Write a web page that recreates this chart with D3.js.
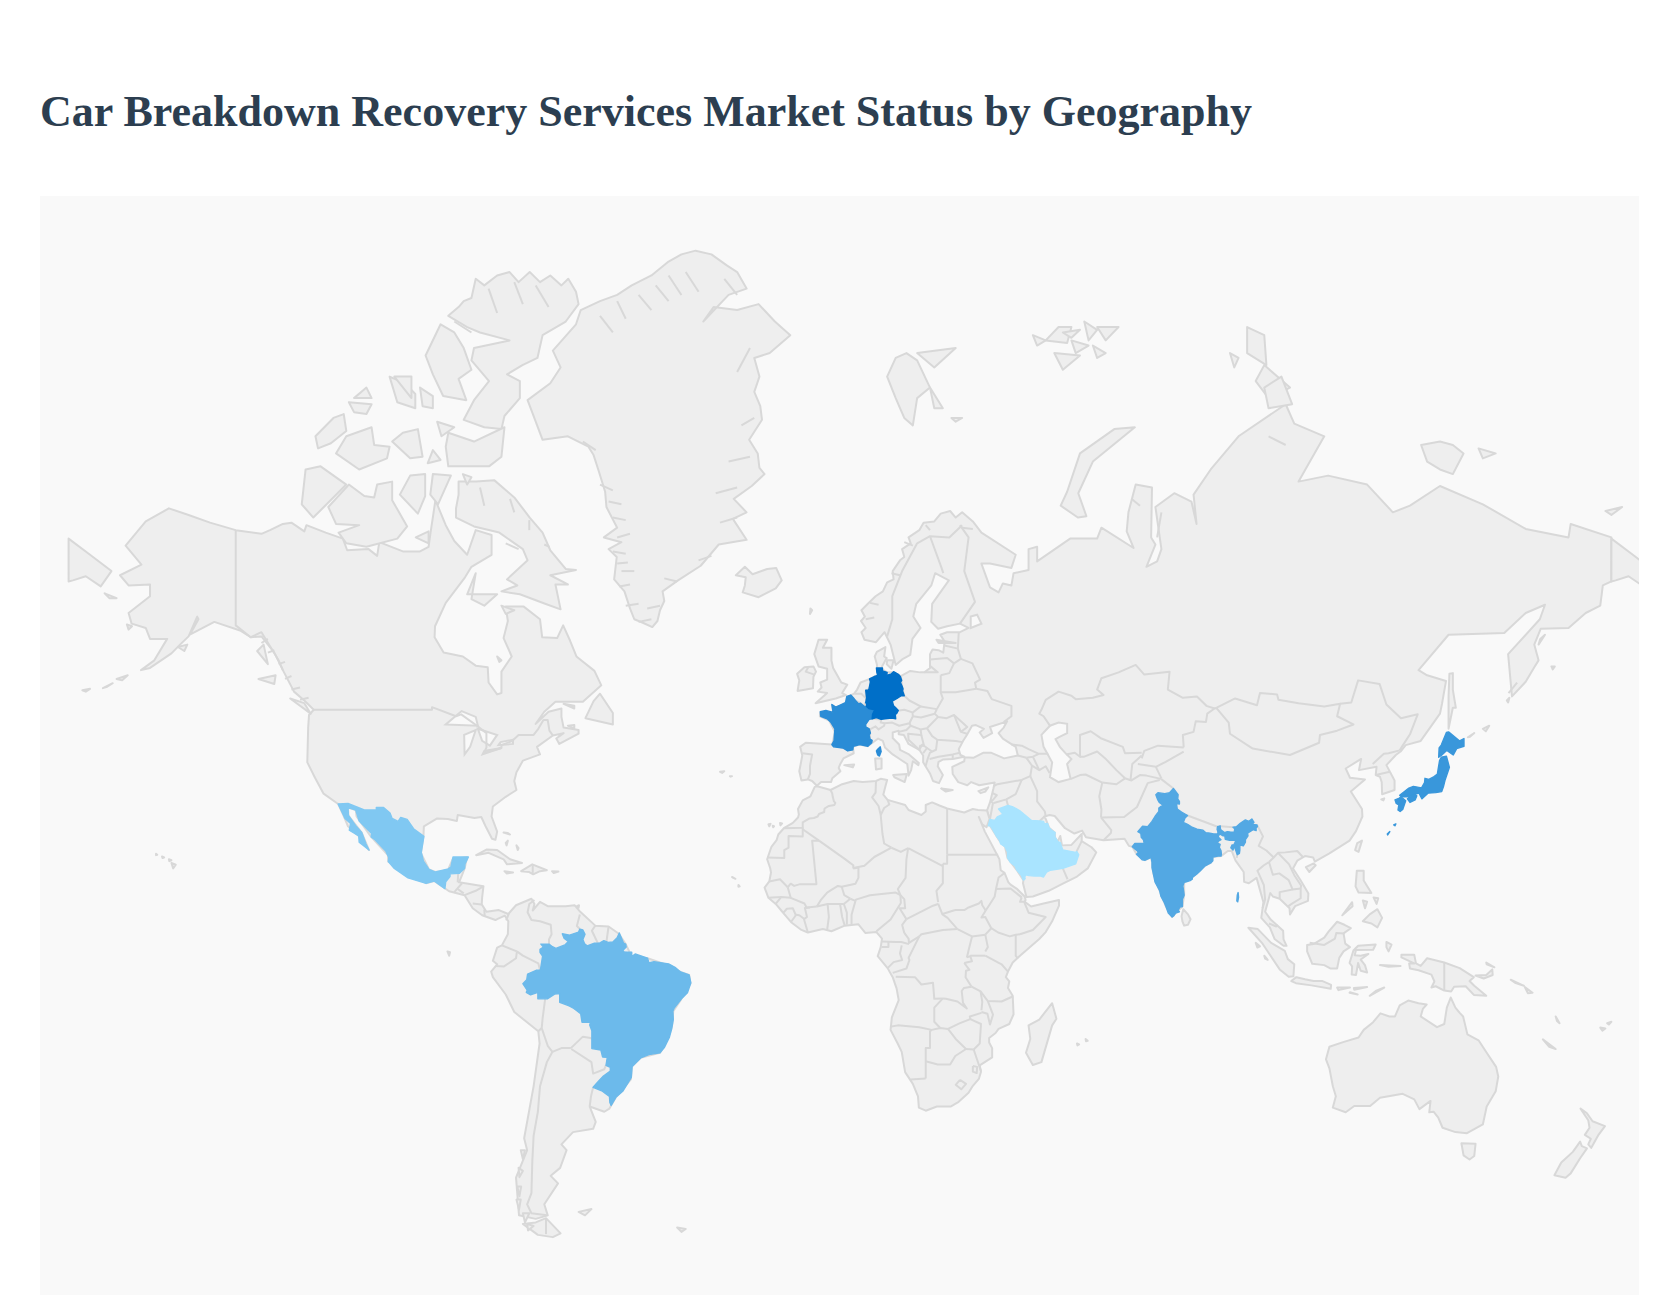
<!DOCTYPE html>
<html>
<head>
<meta charset="utf-8">
<title>Car Breakdown Recovery Services Market Status by Geography</title>
<script src="https://cdn.jsdelivr.net/npm/d3@7"></script>
<style>
  html, body { margin: 0; background: #fff; }
  svg { display: block; }
</style>
</head>
<body>
<svg id="chart" width="1680" height="1304"></svg>
<script>
// chart values
const titleText = "Car Breakdown Recovery Services Market Status by Geography"
const marketNames = ["Saudi Arabia", "Mexico", "Brazil", "India", "Japan", "France", "Germany"]
const marketValues = [0, 24, 36, 51, 66, 75, 100]

// outlines below are flat lists: lon, lat, lon, lat ...
const germany = [[9.9,55,9.9,54.6,11,54.4,10.9,54,12,54.2,12.5,54.5,13.7,54.1,14.1,53.8,14.4,53.3,14.1,53,14.4,52.6,14.7,52.1,14.6,51.8,15,51.1,14.3,51.1,13.3,50.7,12.2,50.3,12.5,49.6,13,49.3,13.6,48.9,13.2,48.4,12.9,48.3,13,47.6,12.1,47.7,10.5,47.6,9.6,47.5,8.5,47.8,7.5,47.6,7.6,48.3,8.1,49,6.7,49.2,6.2,49.5,6.2,49.9,6,50.1,6.2,50.8,6,51.9,6.6,51.9,6.8,52.2,7.1,53.1,6.9,53.5,7.9,53.8,8.8,54,8.6,54.4,8.5,55]]
const france = [[3.6,50.4,4.3,49.9,4.8,50,5.7,49.5,6.2,49.5,6.7,49.2,8.1,49,7.6,48.3,7.5,47.6,6.8,47.5,6,46.7,6,46.3,6.8,46,7.1,45.3,6.8,45,7,44.3,7.5,44.1,7.4,43.7,6.5,43.1,4.6,43.4,3.1,43.1,3,42.5,1.8,42.3,0.7,42.8,-1.5,43,-1.9,43.4,-1.4,44,-1.2,46,-2.2,47.1,-3,47.6,-4.5,48,-4.6,48.7,-3.3,48.9,-1.6,48.6,-1.9,49.8,-1,49.4,1.3,50.1,1.6,51,2.5,51.2,3.1,50.8],
  [8.8,42.6,9.4,43,9.6,42.2,9.2,41.4,8.8,41.6,8.5,42.3]]
const japan = [[142.2,39.4,141.5,41.4,140.3,41.2,139.9,40.6,139.6,39.2,139.4,38.2,138.4,37.6,137.4,37.2,136.5,37.4,136.4,36.6,135.7,35.6,133.8,35.9,132.6,35.5,130.6,34.2,131,33.9,132.2,33.9,135.1,34.6,135.8,33.5,137.2,34.6,139,34.7,140.4,34.9,140.8,35.8,141.2,37.1],
  [144.6,44,145.6,44.4,145.6,43.1,143.9,42.7,143.1,41.6,141.6,42.4,141,42,140.3,41.5,139.7,41.2,139.8,42.8,140.3,43.3,141.5,45.4,142,45.5],
  [134.2,34.3,134.6,34.1,134.2,33.3,133,32.8,132.4,33.5,133,34],
  [130.9,33.9,132,33.1,131.3,31.4,130.7,31,130.2,31.3,130.4,32.3,129.8,32.6,129.5,33.3,130.4,33.6],
  [129.7,28.5,129.2,28.3,129.5,28.1],[128.3,26.9,127.8,26.2,127.7,26.4]]
const india = [[77.8,35.5,78.9,34.3,78.8,33.5,79.2,33,79.2,32.5,78.5,32.6,78.7,31.5,79.7,30.9,81.1,30.2,80.5,29.7,80.1,28.8,81.1,28.4,82,27.9,83.3,27.4,84.7,27.2,85.3,26.7,86,26.6,87.2,26.4,88.1,26.4,88.2,26.8,88,27.4,88.1,27.9,88.7,28.1,88.8,27.3,89.7,26.7,90.4,26.9,91.2,26.8,92,26.8,92.1,27.5,91.7,27.8,92.5,27.9,93.4,28.6,94.6,29.3,95.4,29,96.1,29.5,96.6,28.8,96.2,28.4,97.3,28.3,97.4,27.9,97.1,27.7,97.1,27.1,96.4,27.3,95.1,26.6,95.2,26,94.6,25.2,94.6,24.7,94.1,23.9,93.3,24.1,93.3,23,93.2,22.3,92.7,22,92.1,23.6,91.9,23.6,91.7,23,91.2,23.5,91.5,24.1,91.9,24.1,92.4,25,91.8,25.1,90.9,25.1,89.9,25.3,89.8,26,89.4,26,88.6,26.4,88.2,25.8,88.9,25.2,88.3,24.9,88.1,24.5,88.7,24.2,88.5,23.6,88.9,22.9,89,22.1,88.9,21.7,88.2,21.7,87,21.5,87,20.7,86.5,20.2,85.1,19.5,83.9,18.3,83.2,17.7,82.2,17,82.2,16.6,81.7,16.3,80.8,16,80.3,15.9,80,15.1,80.2,13.8,80.3,13,79.9,12.1,79.9,10.4,79.3,10.3,78.9,9.5,79.2,9.2,78.3,8.9,77.9,8.3,77.5,8,76.6,8.9,76.1,10.3,75.7,11.3,74.9,12.7,74.6,14,73.5,16,73.1,17.9,72.8,19.2,72.8,20.4,72.6,21.4,71.2,20.8,70.5,20.9,69.2,22.1,69.6,22.5,69.4,22.8,68.2,23.7,68.8,24.4,71,24.4,70.8,25.2,70.3,25.7,70.2,26.5,69.5,26.9,70.6,28,71.8,27.9,72.8,29,73.5,30,74.4,31,74.4,31.7,75.3,32.3,74.5,32.8,74.1,33.4,73.7,34.3,74.2,34.7,75.8,34.5,76.9,34.7],
  [92.9,13.6,93,12.5,92.8,11.5,92.6,11.7,92.7,13]]
const brazil = [[-57.6,-30.2,-56.3,-28.9,-55.2,-27.9,-53.6,-26.9,-53.6,-26.1,-54.6,-25.7,-54.3,-24,-55.4,-23.9,-55.8,-22.4,-57.9,-22.1,-57.9,-18.2,-58.4,-16.9,-58.2,-16.3,-60.2,-16.3,-60.5,-14.4,-62.1,-13.2,-63.2,-12.6,-65.4,-11.8,-65.4,-9.8,-66.6,-9.9,-68.3,-11,-70.5,-11,-70.5,-9.5,-72.2,-10.1,-73.2,-9.5,-73,-9,-74,-7.5,-73.1,-6.6,-72.9,-5.3,-70.9,-4.4,-69.9,-4.3,-69.4,-1.1,-70,-0.2,-70,0.5,-69.2,1,-69.8,1.7,-67.9,1.7,-67.1,1.1,-66.3,0.7,-64.2,1.5,-63.4,2.3,-64.4,3.1,-64.8,4.1,-63.1,3.8,-61,4.5,-60.7,5.2,-60,5,-59.5,4,-60,2.8,-59.6,1.8,-59,1.3,-57.3,1.9,-56,2,-55.1,2.5,-54.1,2.1,-53,2.2,-52,3.2,-51.5,4.3,-50.5,1.9,-50,1.7,-49.9,1,-50.7,0.2,-50.4,-0.1,-48.6,-0.2,-48.6,-1.2,-47.8,-0.6,-44.9,-1.6,-44.6,-2.7,-43.4,-2.4,-40,-2.9,-38.5,-3.7,-37.2,-4.8,-35.2,-5.5,-34.8,-7.3,-35.6,-9.6,-37,-11,-38.7,-13.1,-39,-13.8,-38.9,-15.7,-39.3,-17.9,-39.8,-19.6,-41,-21.9,-42,-23,-44.6,-23.4,-46.5,-24.1,-48.5,-25.9,-48.7,-28.2,-50.7,-31,-52.3,-32.2,-53.4,-33.8,-53.7,-33.2,-53.8,-32,-55.6,-30.9]]
const mexico = [[-117.1,32.5,-114.8,32.6,-111,31.3,-108.2,31.3,-108.2,31.8,-106.5,31.8,-105,30.7,-104.5,29.6,-103.1,29,-102.5,29.8,-101,29.4,-99.5,27.5,-97.1,25.9,-97.7,22.5,-97.2,20.6,-95.9,18.8,-94.4,18.2,-91.4,18.9,-90.8,19.3,-90.3,21.5,-86.7,21.5,-87.5,20,-87.6,19,-88.2,18.5,-88.8,17.9,-91,17.8,-91,17.2,-92,16,-92.2,14.5,-94.7,16.2,-96.6,15.7,-100.8,16.9,-104,19,-105.4,20.5,-105.3,21.4,-106,22.8,-108.5,25.2,-109.4,25.8,-109.3,26.5,-112.2,29.1,-113,31.3,-114.8,31.8,-114.7,30.2,-112.9,28,-111.6,26.7,-110.6,24.3,-109.9,23,-112.2,24.7,-112.3,26,-114.5,27.2,-114.2,28.6,-115.5,29.6]]
const saudi = [[42.8,16.4,42.3,17.5,41.2,18.7,40.9,19.5,39.8,20.3,39.1,21.3,39.1,22.6,38.5,23.7,37.5,24.3,37.2,25.1,36.6,25.8,35.6,27.4,35.1,28.1,34.6,28.1,35,29.4,36.1,29.2,36.7,29.9,37.7,30.3,38,30.5,37,31.5,39.2,32.2,40.4,31.9,41.9,31.2,44.7,29.2,46.6,29.1,47.5,29,47.7,28.5,48.4,28.6,48.8,27.7,49.5,27.1,50.2,26.7,50.1,25.9,50.5,25.3,50.8,24.8,51.4,24.6,51.6,24,52,23,55,22.5,55.2,22.7,55.7,22,55,20,52,19,49.1,18.6,48.2,18.2,47.5,17.1,46.8,17.3,45.4,17.3,44.1,17.4,43.4,17.6,43.1,17.1,43.2,16.7]]
const marketShapes = [saudi, mexico, brazil, india, japan, france, germany]

const americas = [-156.6,71.3,-152,70.8,-147,70.2,-141,69.6,-135,69.3,-133,69.6,-130,70.1,-128,70.2,-125,69.5,-124.5,70,-120,69.4,-116,68.9,-115,67.9,-110,68,-108,67.4,-107.5,68.6,-102,67.8,-98,67.8,-96,68.2,-95.5,69.5,-94.4,71.9,-92,70,-90,68.7,-87,67.5,-85,69.6,-81.3,69.2,-81.3,67.5,-86,66.4,-87.5,65.4,-92,62.8,-94.5,60.2,-94.6,58.9,-92.5,57,-88,56.5,-85,55.3,-82.2,55.1,-82,53,-80,51.3,-79,51.5,-79,54.5,-76.6,56.5,-78.5,58.8,-77.5,60.8,-78,62.4,-73.8,62.4,-70,61,-69.5,58.9,-66,58.8,-64.6,60.3,-63,58.5,-61.5,56.5,-57.3,54.6,-55.7,52.6,-60,50.2,-66.4,50.2,-69,48.7,-71,46.8,-68,48.7,-65,49.2,-65,47.9,-64.5,46.2,-61,45.8,-61,45.2,-65.5,43.5,-66.2,44.4,-64.5,45.3,-67,44.9,-70.7,43,-70,41.7,-74,40.6,-75.5,38.5,-76,36.9,-75.5,35.2,-78,33.9,-81,32,-81.3,30,-80,26.9,-80.4,25.2,-81.2,25.4,-82.7,28,-83.7,29.9,-85.3,29.7,-89.2,30.3,-89.4,29.1,-91.5,29.5,-94,29.6,-97.1,28,-97.2,25.9,-97.8,22.4,-95.9,18.8,-94.4,18.2,-91.5,18.6,-90.4,21,-87,21.5,-87.6,19,-88.2,17.5,-88.9,15.9,-83.2,15,-83.5,12.5,-83.6,10.9,-82.5,9.2,-79.6,9.6,-77.4,8.7,-75.6,10.7,-72,12.2,-71.3,11,-71.7,9.5,-70,11.5,-68.2,10.5,-64,10.5,-61.9,10.7,-60.8,9.4,-57.1,6,-54,5.8,-51.6,4.1,-50,1.7,-48.6,-1.2,-44.9,-1.6,-41,-2.9,-37.2,-4.8,-35.2,-5.5,-34.9,-7.5,-37,-11,-38.9,-13.8,-39.2,-17.2,-40.8,-21,-42,-23,-46.5,-24.1,-48.6,-25.9,-48.8,-28.6,-52.3,-32.2,-53.8,-34.4,-55,-35,-58.4,-34,-57,-36.9,-57.6,-38.2,-62.3,-38.8,-65,-41,-63.8,-42,-65.3,-45,-67.5,-46.3,-65.8,-47.5,-69,-50.7,-68.2,-52.3,-71,-52.8,-74.9,-52.3,-75.6,-46.6,-73,-42,-73.7,-39.9,-71.5,-30,-70.1,-21,-70.4,-18.3,-76,-14,-78,-10,-81,-6,-81.4,-4.7,-80,-3,-81,-2.2,-80,0.9,-78.9,1.4,-77.5,4,-77.4,7,-78.2,8.3,-80,7.5,-80.4,7.3,-83.5,8.4,-85.7,10,-87.6,13,-91.2,13.9,-94.7,16.2,-96.6,15.7,-105.4,20.5,-105.5,21.9,-109.4,25.8,-112.8,30,-113,31.3,-114.8,31.8,-114.7,30.2,-111.6,26.7,-109.9,23,-112.3,26,-114.8,28,-116,30.5,-117.1,32.5,-120.5,34.5,-122.5,37.5,-124.3,40.3,-124.1,46.2,-123.9,48.2,-122.8,49,-125,50.4,-127.4,51.7,-130,54.7,-132,57,-135,59,-137.5,58.9,-140,59.7,-146,60.7,-151.7,59.2,-149.7,61,-150,61.3,-152,59,-154,58,-156,56.9,-161,55,-163.1,54.7,-160,56,-157,58.7,-161,58.7,-162,60,-165.3,60.5,-166,61.7,-161,63.5,-161,64.7,-166,64.6,-168,65.6,-163,66.6,-166.7,68.3,-162,70.3]
const greenland = [-60.5,81.6,-56,81.9,-52,82.1,-48.6,82.4,-44,82.7,-40,83.1,-37,83.3,-33.7,83.4,-30,83.3,-26.5,83,-24,82.8,-21.8,82.3,-26,82.1,-31.9,81.2,-29.5,81.7,-24,81.6,-19,81.8,-15.2,81.2,-11.6,80.7,-16.4,80,-20,79.8,-18.8,79,-20,78.3,-18.6,77.6,-18.2,76.9,-21.2,75.8,-19.2,75,-18.8,74.1,-17.6,73.7,-20.6,72.9,-24.8,72,-21.8,71,-25,70.5,-21.8,68.8,-28.3,68.4,-32.5,66.5,-37.8,65.1,-41.4,64,-41,63,-42,62,-42.6,60.8,-43.8,60.1,-46,60.6,-48,61,-49,62.2,-50.3,64,-52.7,65.2,-52.1,67.3,-54,68,-51,68.6,-55.1,69,-52,69.8,-54.5,71.4,-54.8,72.5,-56.3,73.9,-57.5,74.9,-58.7,75.4,-63.5,76,-69.4,75.8,-71,76.8,-72.9,77.9,-67.6,78.7,-65.2,79.4,-67,80.1,-61.6,81.1]
const canadaIslands = [
  [-91.4,81.4,-89,81.7,-87.8,81.9,-86,82,-85,82.6,-83,82.4,-80,82.7,-77.1,82.8,-75,82.5,-72.4,82.8,-70,82.5,-67.6,82.7,-65,82.4,-63.4,82.6,-61.6,82.2,-61,81.8,-64,81.2,-69.4,80.7,-70.6,79.8,-74.1,79.5,-77.7,79.1,-74.7,78.8,-74.7,78,-78.3,77.1,-79,76.4,-83,76.5,-87.8,76.9,-85.4,77.9,-81.9,78.8,-86,79.7,-85.4,80.2,-77.1,80.5,-84,80.8,-87,81],
  [-96.7,79.9,-93.2,81.1,-90,80.8,-87.8,80.2,-86,79.3,-89,78.9,-87.2,77.9,-92.6,78.1,-95,79.1],
  [-105.1,79,-101.5,78.7,-99.1,78.2,-99.1,77.5,-103.3,77.8],[-98,78.5,-95,78.1,-95,77.5,-97.4,77.6],[-110.5,78.5,-109.3,78,-113.4,78],[-114.6,77.8,-109.3,77.7,-110.5,77.2,-113.4,77.3],
  [-115.8,77.2,-118.2,77,-122.4,76,-121.8,75.3,-118.8,75.6,-115.2,76.3],[-109.3,76.5,-108.7,75.5,-105.1,75.4,-105.7,74.7,-112.2,74,-117.6,75,-115.2,76],
  [-98.5,76.4,-97.4,74.8,-100.3,74.7,-104.5,75.7,-102,76.2],[-95,75.2,-93.2,74.6,-96.2,74.4],[-91.4,76.2,-85.4,75.7,-78.3,76.5,-79,74.8,-81.9,74.2,-91.4,74.2,-92,75.4],
  [-100.3,73.6,-96.8,73.7,-96.8,72.2,-98.5,70.9,-102.7,72.3],[-95,73.7,-90.8,73.6,-93.8,71.6,-95.6,72.3],
  [-89,73.2,-84.9,73.2,-80.7,73.3,-76,72.1,-72.4,70.6,-69.4,69.4,-67.6,67.9,-64,66.2,-61.6,66.1,-67.6,65.6,-63.5,64.7,-66.4,64.7,-65.2,62.1,-68.8,62.7,-74.7,63.7,-79,64,-75.3,64.6,-77.7,65.2,-72.9,67,-74,68,-79.5,69.4,-85.4,69.9,-89.6,70.6,-89.6,71.3,-89,72.3],
  [-114.6,73,-111,72.2,-108.7,72.1,-108,73,-104.5,73.2,-104.5,71.9,-101,69.9,-103.3,68.9,-110.5,68.2,-115.2,68.5,-117,69.4,-112.2,70,-117.6,70.1,-119.4,71.4],
  [-124.7,74,-121.2,74.2,-115.2,73,-122.9,70.6,-125.6,71.6],
  [-87,63.7,-80,63.7,-83,62.5,-86,63.2,-85,65.8],[-99,69,-96,69.5,-96,68.5],[-59.4,47.7,-53,46.7,-53,48.5,-56,51.4,-57.5,50.3],[-128.3,50.7,-123.5,48.4,-125,50],[-64.5,49.9,-62,49.2,-62,49.6],[-63.5,46.5,-62,46,-62,46.6],
  [-80,56.5,-79,56,-79.5,55.8],[-79,62.5,-76,62,-78,61.6],[-104,79,-100,79,-100,78],[-94,76.8,-90,76.5,-93,76],[-88,73.7,-86,73.5,-87,73]
]
const eurasia = [-9,37,-9.5,38.7,-8.8,41.5,-9.3,43,-8,43.7,-1.8,43.4,-1.2,45.5,-2.5,47.3,-4.7,48,-4.6,48.6,-1.6,48.7,-1.9,49.7,-1,49.4,0.2,49.6,1.5,50.2,1.6,50.9,3.3,51.4,4,52,4.8,53,7,53.5,8.2,53.9,8.8,54,8.6,55.5,8.1,56.5,8.6,57.1,10.6,57.7,10.3,56.5,10.9,56.3,9.8,55.2,9.9,54.8,11,54.4,12.5,54.4,14.2,53.9,16.4,54.6,18.7,54.4,19.7,54.4,21,55,21,56.8,21.6,57.4,23,57.3,24.1,57,24.4,58.4,23.4,59.2,25,59.5,28,59.5,30,60,28,60.5,25,60.2,22.9,59.9,21.3,60.7,21.5,62.7,25.4,65.1,22.2,65.8,21.3,64.6,17.8,62.7,17.1,61.3,18.8,60,16.9,58.7,16.4,56.7,14.7,56.2,13,55.4,11.8,58,10.4,59.5,8.4,58.3,5.7,58.6,5,59.5,6,60,4.9,60.8,5.8,61.3,5,62,6.5,62.7,8.3,63.5,10,64,11,64.9,12.5,65.2,12.3,66,14,67,15,67.3,14.5,68,16.5,68.5,16,69,18.5,69.6,19.5,70.2,22,70.3,23.5,70.9,25.7,71.1,27,70.6,28.5,71,31,70.3,33,69.4,41,67.5,40,66.3,35,66.7,33,66.7,35,64.4,37,63.9,38,64.8,40,64.6,40.5,65.8,44,66.1,44,68,46,68.2,46,66.9,53.7,68.9,60,68.9,61,69.8,68.5,68.1,66.9,69.5,67.3,71,69,73,72.8,72.8,72.6,69,73.6,68.4,71.5,66.4,74,66.9,75,68,73.6,71.4,78,72.4,82,71.8,83.2,70.1,82.5,72.3,86.5,74,93,76,104,77.7,106,76.7,113,76,107,73.2,113.9,73.6,123,73,129,71,133,71.5,140,72.9,150,71.6,160,69.7,170,69,170.5,70.1,180,69,180,65,178,64.6,177.4,62.5,174,61.7,170,60,163.5,59.9,162,58,163,56,161.9,55,160,53.1,156.8,51,155.9,56.8,163.3,61,164.5,62.6,160,61.7,155,59.4,142,59.2,135,54.7,137,54,141.4,53.2,140.5,50,140,48.4,135.5,44,132,43.3,130.8,42.2,129.7,41.6,127.5,39.8,129.4,37,129.4,35.2,126.5,34.4,126.4,36.7,126,37.7,125,38,125.2,39.5,121.1,38.9,121.6,40.9,118,39.2,119,37.5,122.5,37.2,119.2,34.9,121.8,31.5,121.9,30,120.4,27,118.9,25,114.2,22.3,110.8,20.5,110.4,21.4,108.5,21.7,106.7,20.7,105.7,19,107.4,16.5,109.3,13.4,109.2,11.7,106.2,10.5,105,8.6,104.9,10,102.6,12.2,101,12.7,100.4,13.5,100,12,99.2,9.2,100.5,7.4,103.4,4.8,103.5,2.8,104.2,1.3,103.5,1.3,101.4,2.9,100.3,5.6,98.3,7.8,98.8,11.4,97.2,16.9,95.4,15.7,94.3,16,94.2,18.2,92.3,20.7,91.4,22.8,90.5,22.8,88.9,21.7,87,21.5,86.5,20.2,85,19.5,82.2,17,80.3,15.9,80.3,13,79.9,10.4,78.3,8.9,77.5,8,76.1,10.3,74.6,14,73.1,17.9,72.8,20.4,72.6,21.4,71.2,20.8,69.2,22.1,68.2,23.7,67.4,23.9,66.4,25.4,61.5,25.1,57.4,25.7,56.5,27.1,54.7,26.5,52.5,27.6,50.1,30.1,48.9,30.3,47.7,30,48,29.5,48.8,27.7,50.1,26.7,50.2,25.6,50.8,24.8,51.4,26,51.6,25,51.8,24,54,24.1,56.4,26.4,56.4,24.9,58.7,23.6,59.8,22.5,57.8,19,55.3,17.2,52,15.6,48.7,14,45,12.7,43.5,12.6,42.7,15.7,42.8,16.4,41.2,18.7,39.1,21.3,38.5,23.7,37.2,25,35,28.1,34.9,29.5,34.3,31.2,35,32.8,35.8,35.5,36.1,36.6,32.5,36.1,30.6,36.7,29.7,36.1,27.6,36.7,26.3,38.2,26.2,39.5,29,40.5,29.1,41.2,31.1,41.1,33.5,42,35.2,42,38.3,41,41.5,41.5,41,43,38,44.4,37,45.3,38.2,46.2,39,47.2,35,46.3,35.5,45.3,33.5,44.5,32.6,45.4,33.6,46,31.7,46.6,30.8,46.5,29.6,45,28.7,44,28,43,27.7,42.6,28.1,41.6,29,41.3,26.3,40.9,24,40.8,23,40.4,22.8,39.6,24,38,23.1,36.5,21.7,36.9,21,38.3,19.4,40.3,19.4,41.5,18.5,42.5,16,43.5,14.9,45,13.7,45.1,13.7,45.7,12.3,45.4,12.3,44.5,13.8,43.4,14,42.5,16.1,41.7,18.4,40.2,18.3,39.8,17,40.5,16.6,38.9,16,37.9,15.7,40,14.1,40.8,12.3,41.7,10.5,42.9,10,44,8.9,44.4,6.5,43.1,4.5,43.4,3,43,3.2,41.9,0.8,41,0,39.9,-0.3,39.3,0.1,38.7,-1.8,37.4,-2.1,36.7,-4.4,36.7,-5.4,36,-6.5,36.9,-7.5,37.2]
// far east tip of Russia, it shows up on both ends of the map
const chukotkaEast = [-180,68.9,-175,67.5,-170,66,-172.5,64.5,-176,65.5,-179,65.1,-180,65]
const eurasiaIslands = [
  [142,46,143,49.3,143.7,49.3,143,52,143,54.3,142.2,54.2,142,51,142,48],
  [51.5,71.5,55.5,70.6,57.5,70.7,55.6,72.4,59,74.5,68.8,76.5,64,76.4,56,75,53,72.5],
  [11,79,13,78,14,77.5,15,77,17,76.6,18,78,21,78.5,18,79.7,15.5,80,13,79.8],[18,80,27,80.2,22,79.4],[21,78.5,24,77.5,22,77.5],[26,77,28.5,77,27,76.8],
  [95,81,99,80.7,99.5,79.5,95,80],[99,79.5,105,78.5,100,78,97,78.8],[100,77.5,105.5,77.7,103,79,99,78.5],[91,80,93,79.8,92,79.4],
  [135.6,75.5,140,75.7,143,75.5,145.5,75,143,73.7,140,74,137,74.5],[149,75.3,153,75,150,74.7],[178.6,71.1,182.5,71.4,180,70.8],
  [48,80.5,51,81,54,81,53,80.4],[50,80,56,79.9,52,79.3],[57,81.2,60,80.9,58,80.5],[60,81,65,81,62,80.5],[45,80.7,48,80.5,46,80.3],[54,80.5,58,80.3,55,80],[52,80.8,56,80.9,54,80.6],[59,80.3,62,80,60,79.8],
  [-5.7,50,-1,50.7,1.4,51.2,0.5,51.5,1.7,52.7,0.3,53,-1.6,55,-2,56,-2,57.6,-4,57.6,-3,58.6,-5,58.6,-6,56.8,-5,55.2,-3,54.9,-3,53.4,-4.6,53,-4.3,52.3,-5.2,51.7,-3,51.5],
  [-6.2,53.8,-6.3,52.2,-9.9,51.8,-9.5,53.3,-10,54.2,-8.3,55.1,-6.2,55.2,-5.6,54.5],
  [-22.7,63.9,-19,63.4,-15,64.3,-13.6,65.1,-14.9,66.3,-17,66.2,-20.4,65.7,-22.2,66.4,-24.3,65.6,-22,65.4,-22.2,64.6],
  [12.4,38,15.6,38.2,15.1,36.7,12.7,37.6],[8.2,41,9.7,41,9.7,39.2,8.4,39],[23.6,35.5,26.3,35.2,24.7,34.9],[32.3,35,34.6,35.7,33.9,34.9,32.8,34.6],
  [1,39.8,3.3,39.9,3,39.4],[22.5,58.6,23,58.2,27,58.2],[11,56,12.5,56,12,54.9,10.9,55.5],
  [80.1,9.8,81.2,8.6,81.8,7.5,81.2,6.2,80.3,6,79.9,7,79.7,8.2],[121.8,25,121,22.6,120.2,23,120.7,24.5],[108.7,19.3,110.5,20.1,111,19.7,109.5,18.2],
  [120.6,18.5,122.2,18.5,122.2,16.3,124,13.5,121,13.6,120.3,15],[122,7,123.6,8.6,125.4,9.8,126.5,7.8,125.4,5.6,124,6.5],[117.2,8.4,119.5,11.4,119.6,10.5],[122,11.8,123,11.5,122.5,10],[124.5,12.5,125.6,12.3,125.2,11],
  [109,1.5,110.5,1.7,113,3.2,114,4.6,116,6.9,117.7,6.2,119.2,5.4,117.5,4.2,117.9,1.8,119,1,117.5,0,116.5,-1.5,116,-4,114.5,-4,113,-3.2,110.2,-2.9,109,0],
  [95.3,5.5,97.5,5.2,100.6,2,103.8,0.1,104.5,-1.8,106,-3,105.8,-5.8,104.7,-5.9,102.6,-4.2,100.2,-0.6,98.6,1.8],
  [105.3,-6.9,106.5,-6,108.5,-6.5,110.5,-6.9,112.6,-6.9,114.6,-7.8,114.5,-8.7,110,-7.9,106.4,-7.4],
  [119.4,-5.4,119.5,-3.5,118.9,-2.7,119.8,0.2,120.9,1.3,125,1.6,124.4,0.4,120.4,0.3,120.1,-0.9,121.5,-1,123.3,-0.6,121.5,-1.9,122.5,-3.2,123,-4.9,121.5,-4.5,120.9,-2.7,120.4,-5.5],
  [127.5,2.2,128.7,1.6,128,0,127.5,1],[116,-8.4,119,-8.4,116.3,-9],[119,-9.5,120.8,-10,118.9,-9.6],[119.9,-8.5,123,-8.3,120,-8.9],[123.6,-10.3,127,-8.4,125,-9.2],[126,-3.2,130.8,-3.4,128,-3.6],[97,2,98,1.2,97.4,0.9],[99,-1,99.8,-2,99.2,-1.7]
]
const oceania = [
  [142.5,-10.7,143.6,-13,144.6,-14.2,145.4,-15,146.4,-19,149,-20.3,150.9,-23,153.1,-26,153.6,-28,153,-31,150.9,-34,150,-37.4,146.3,-39,143.6,-38.8,140.6,-38,139.6,-36.1,138.5,-35,137.5,-35.1,137.8,-32.9,135.2,-34.5,134,-32.6,131.3,-31.5,126,-32.3,123.7,-33.9,120,-33.9,118,-35.1,115,-34.2,115.7,-32,115,-30,114.2,-26.3,113.4,-24.4,114.2,-21.7,117.4,-20.7,121,-19.7,122.2,-18,124.4,-16.3,126.1,-14.3,128.2,-15,129.5,-15,130.6,-12.5,132.6,-11.4,135,-12,136.9,-12.3,136,-13.3,135.5,-15,139.3,-17.4,141,-16.7,141.6,-13],
  [145,-40.8,148.3,-40.9,148,-43,146.9,-43.6,145.5,-42.9],
  [131,-0.8,134,-0.8,134.4,-2.8,135.5,-3.4,137,-1.6,141,-2.6,144.6,-3.9,147.9,-6,146.9,-6.9,148,-8,150.8,-10.3,147.9,-10.1,146,-8.1,143.3,-8.2,142.6,-9.3,141,-9.1,139,-8.1,138,-8.4,138.7,-7,138,-5.4,135,-4.4,133,-4,132.8,-2.8,134,-2.8,131,-1.4],
  [148.3,-5.6,150.8,-5.5,152.2,-4.2,152.3,-5.5,150.2,-6.3],[150.8,-2.6,152.7,-3.7,150.9,-3],
  [172.8,-34.4,174.3,-35.3,175.6,-36.8,178.5,-37.7,176.9,-39.4,175.3,-41.6,174.6,-41,175.2,-40,173.8,-39.3,174.9,-38,174.6,-36.6],
  [172.7,-40.5,173.1,-41.3,174.3,-41.7,172.7,-43.4,170.5,-45.9,169.3,-46.6,166.7,-46.2,168.3,-44.1,171,-42.3],
  [164,-20.1,167,-22.2,165.5,-21.7],[156.5,-6.6,159.6,-8,157.5,-7.3],[159.8,-8.3,161.6,-9.6,160.5,-9.7],[167,-15,167.9,-16.5,167.3,-16],[177.4,-17.5,178.6,-17.7,177.9,-18.2],[179,-16.5,180,-16.2,179.4,-16.8]
]
const africa = [-5.9,35.8,-5.3,35.9,-2.2,35.2,0.5,36.3,3.2,36.9,5.3,36.7,8.4,36.9,9.5,37.3,11,37.1,10.6,35.9,10.1,34.3,11.1,33.3,15.2,32.3,16,31.3,19,30.3,20,31,20,32.3,21.5,32.8,23.2,32.2,25,31.6,29,30.8,31,31.5,32.2,31.3,34.3,31.2,34.9,29.5,34.2,27.8,33.2,28.4,32.4,29.9,33.8,26.9,35.5,24,37.2,21,37.5,18.6,38.4,18,39.3,15.9,39.8,15.4,41.2,14.5,43.1,12.7,43.3,11.9,43.1,11.5,44.6,10.4,47.5,11.1,51.1,11.9,51.1,10.6,49.5,7,48,4.5,46.5,2.9,42,-1,40.3,-2.6,39.2,-4.7,38.7,-6,39.5,-7,39.2,-8.5,40.3,-10.3,40.5,-14.5,39.5,-16.7,37,-17.8,36.3,-18.7,34.8,-19.8,34.8,-20.8,35.5,-22,35.5,-24,32.6,-25.7,32.9,-27,32.4,-28.5,31,-29.9,30,-31.3,27.5,-33.2,25.8,-34,22.6,-34,20,-34.8,18.4,-34.2,18.2,-32,17,-29.5,15.2,-27.1,14.4,-22.8,13.4,-20.9,11.8,-18,12.1,-15.2,13.7,-11.3,13.2,-8.6,12.3,-6,11.1,-3.9,8.8,-1.1,9.5,1,9.8,3,8.5,4.5,5.9,4.3,4.3,6.3,1.1,6,-2,4.7,-4,5.2,-7.5,4.4,-9,5,-11.4,6.8,-13.2,8.9,-13.7,9.5,-15,11,-16.7,12.4,-17.6,14.7,-16.5,16.1,-16.1,18.1,-16.3,19.1,-17,21,-16,23.7,-14.8,25.1,-14.4,26.3,-13.1,27.6,-11,28.7,-9.8,29.8,-9.6,30.4,-9.8,31.5,-8.7,33.2,-6.9,34]
const otherIslands = [
  [49.5,-12,50.5,-15.5,49.5,-17,47,-25,45,-25.6,43.4,-23,44.4,-20,44,-17,46.5,-15.7],[57.3,-20,57.8,-20.4,57.4,-20.5],[55.3,-21,55.8,-21.2,55.4,-21.4],
  [-84.9,21.9,-82.5,23.1,-80,23,-77,21,-74.2,20.2,-77.7,19.9,-78.5,21,-82,22.4],[-74.4,18.4,-71.8,19.9,-68.4,18.6,-70,18.4,-71.6,17.7,-72.5,18.2],[-78.3,18.4,-76.3,18.1,-77.8,17.9],[-67.2,18.4,-65.7,18.3,-66.8,18],
  [-78,24.5,-77.5,25,-77.8,24],[-77.5,26.6,-77,26.3,-78.5,26.7],[-75,23.4,-75.5,24,-75.2,23],[-61.4,10.5,-60.9,10.7,-61,10.1],
  [-159.6,22.2,-159.3,22,-159.6,21.9],[-158.2,21.6,-157.7,21.4,-158.1,21.3],[-156.6,21,-156,20.8,-156.5,20.6],[-156,20.2,-155,19.8,-155.6,19],
  [-91.6,0,-91,-0.2,-91.2,-1],[-61,-51.8,-58,-51.4,-59.5,-52.3],[-38,-54,-36,-54.2,-37,-54.6],
  [-68.6,-52.7,-65.2,-54.8,-67,-55.3,-70.5,-55,-74,-53.5,-71,-53.3],[-74.5,-42,-73.5,-42,-74,-43.5],[-75,-45,-74,-45.5,-74.8,-46.5],[-75.3,-48,-74.4,-48,-74.8,-49.5],[-75.5,-50,-74.5,-50,-74.9,-51.5],[-74,-52,-72.5,-52,-73.5,-53.3],[-73,-53.5,-71.5,-53.8,-72.8,-54.4],
  [-16.7,28.4,-16.2,28.5,-16.5,28],[-15.7,28.1,-15.4,28,-15.6,27.8],[-14,28.7,-13.5,28.6,-13.9,28.2],[-24.4,16.7,-24.9,16.9,-25.2,17.1],[-23.7,15.3,-23.4,15,-23.7,14.9],[-28,38.6,-27,38.7,-27.5,38.4],
  [-25.7,37.8,-25.2,37.8,-25.5,37.7],[-6.9,62.2,-6.5,62,-7,61.6],
  [-172,52.2,-169.7,52.9,-171,52.4],[-168.8,53.5,-166.2,54,-167.5,53.3],[-176.8,51.9,-175,52.1,-176,51.7],[-154.5,57.7,-152.3,58,-153,57.2],[-134.5,58,-133.5,55.5,-136,57.2],[-135.7,53.5,-131.7,54,-132,52.8],
  [155.6,50.4,156.2,50.8,155.9,50.1],[150,46,151.5,46.5,150.7,45.6],[146.5,44.6,148,45.3,147,44.7],[163,58,164.5,59.2,163.4,58.7],
  [166,55.2,166.8,55.2,166.3,54.8],[127,33.6,126.3,33.4,126.8,33.2],[-171.6,63.8,-168.8,63.3,-170.5,63.3],[-166.4,60.4,-165.2,60.2,-166,59.8]
]
const lakes = [
  [47,45,49,46.5,51,47,53,46.8,53,45.3,51,44.6,50.3,44.3,51.3,43,52.5,42,54,40.9,53,40,53.8,37.3,51,36.7,49,37.6,49.5,40.3,47.5,43],
  [-92,46.7,-84.5,46.5,-85,47.9,-88.3,48.8],[-87.6,41.7,-86.3,43,-85,45.8,-87.7,45],[-84.5,46,-80,45,-81.7,43.2,-83.5,44],[-83.4,41.7,-79,42.8,-83,42.3],[-79.7,43.3,-76.3,43.5,-76.3,44.2,-79.2,43.8],
  [30.5,60,33,60.5,32,61.5,30.5,61.3]
]
const americaBorders = [
  [-141,69.6,-141,60.3,-137.5,58.9,-135,59.5,-131,56,-130,54.7],
  [-122.8,49,-95.2,49,-95.2,49.4,-89.6,48,-88.4,48.3,-84.7,46.5,-82.5,45.3,-82.5,42.9,-83,42,-79,42.8,-79,43.3,-76.5,44,-75,45,-71.5,45,-70.4,46,-69.2,47.4,-68.2,47.4,-67.8,45.7,-67,44.9],
  [-88.2,15.7,-89.2,14.6,-90,13.7],[-89.1,17.9,-89.2,15.9],[-89.2,14.4,-87.8,13.4],[-87.6,13,-85,14,-83.2,15],[-85.7,11.1,-83.7,10.9],[-83,9.7,-82.9,8.1],[-77.3,8.7,-77.9,7.2],
  [-71.3,11.9,-72.5,11,-72.9,9.1,-72,7.3,-70,7,-67.5,6.2,-67.3,4,-67.9,2.8,-67.9,1.7],[-78.9,1.4,-75.4,0],[-75.4,0,-74,-1,-70.4,-2.8,-70,-4.3],[-75.4,-0.1,-75.6,-1.6,-78.4,-3.5,-80.3,-3.4],
  [-60.7,8.6,-61.4,5.9,-60.7,5.2],[-57.1,6,-57.9,4.8,-56.5,1.9],[-54,5.8,-54.5,2.3],[-68.8,-11,-69.4,-15.5,-69.6,-17.6],[-69.6,-17.6,-70.4,-18.3],[-69.6,-17.6,-68.2,-21.5,-67.1,-22.8],
  [-67.1,-22.8,-65,-22,-62.8,-22],[-62.8,-22,-60,-19.5,-58.2,-19.8,-57.9,-20],[-62.7,-22.2,-58,-25,-57.6,-27.4,-55,-26.5,-54.6,-25.6],
  [-67.1,-22.8,-68.4,-25,-70,-30,-70.5,-35,-71.5,-39.5,-71.8,-44,-72,-49,-73,-50.7,-72,-52,-68.4,-52.3],[-68.6,-52.7,-68.6,-54.9],[-58.4,-33.9,-58.1,-32,-57.6,-30.2],[-71.7,19.7,-71.7,18]
]
const africaBorders = [
  [-2.2,35.2,-1.8,34.5,-1.7,33.9,-1.4,33,-1.1,32.7,-1.3,32.3,-2.6,32.1,-3.6,31.6,-3.7,30.9,-4.9,30.5,-5.2,30,-6.1,29.7,-7.1,29.6,-8.7,28.8,-8.7,27.7,-13.1,27.6],
  [-8.7,27.7,-8.7,25.9,-12,26,-12,23.5,-13,23,-13,21.3,-17,21.4],[-8.7,27.4,-4.9,25],[-4.9,25,-6.5,25,-5.5,15.5,-9.3,15.5,-10.7,15.1,-11.5,15.6,-12.2,14.8],[-12.2,14.8,-14,16.6,-16.5,16.1],
  [-4.9,25,1.1,21.1,1.8,20.6,3.1,19.7,3.1,19],[3.1,19,4.3,19.2,4.3,16.9,3.6,15.6,0.4,14.9,-0.5,15.1,-2,14.2,-3,13.6,-4.4,12,-5.4,10.4],[-12.2,14.8,-11.5,12.4,-8.3,11.1,-7.8,10.2,-5.4,10.4],
  [3.1,19.1,5.7,19.6,8,21.5,12,23.5],[9.5,30.3,9.9,26.5,10.3,24.4,12,23.5],[8.4,36.9,8.3,34.7,7.5,33.8,9,32.1,9.5,30.3],[9.5,30.3,10.3,31.7,11.5,32.4,11.1,33.3],[25,31.6,25,22],[25,22,25,20,24,20],[24,19.5,15.9,23.4],[15.9,23.4,14.2,22.6,12,23.5],[25,22,36.9,22],
  [24,20,24,15.7,22.5,14,22.9,11.4],[22.9,11.1,23.9,8.6,25.1,7.8,27.4,5.2],[27.4,5.2,30.8,3.5],[30.8,3.5,33.9,3.9],[33.9,3.9,35.3,5.4,33.9,8,33,7.9,34,9.5],[23.9,8.7,26.5,9.5,27,9.6,29,9.6,30,10.2,32.4,11.1,33,11.7,33.2,10.7,34,9.5],
  [34,9.5,35,11,36.1,12.7,36.4,14.4],[36.4,14.4,37,17,38.4,18],[36.4,14.4,39.8,14.5,42.4,12.5],[42.4,12.5,42,11.5,43.3,11.5],[43,11.4,44,9,48,8,45,5,42,4],[35.3,5.4,36.9,4.4,39.6,3.5,41,3.9,42,4],[41,3.9,41,-1,41.5,-1.7],
  [33.9,3.9,34.5,1,33.9,0],[33.9,-1,37.7,-3,39.2,-4.7],[30.8,3.5,29.6,-1.4],[30.4,-1,33.9,-1],[29.6,-1.4,30.4,-1.1,30.8,-2.3,29,-2.7],[29,-2.7,30.2,-4.3,29.4,-4.5,29.3,-6,30.7,-8.2],[30.7,-8.2,32.8,-9.3,34.5,-11.5,37.7,-11.6,40.4,-10.4],
  [30.7,-8.2,28.9,-8.5,28.4,-9.2,28.7,-11.9,29.6,-13.2,27.4,-11.6,24.7,-11,24,-10.9],[24,-10.9,22,-11,21.7,-7.3,19,-7.7,17.5,-6,13,-5.9],[24,-10.9,22,-13,22,-16.2,23.4,-17.6],[11.7,-17.3,13.5,-17,18.5,-17.4,21.4,-18,23.4,-17.6,25.2,-17.8],
  [21.4,-18,21,-18.3,21,-22,20,-22,20,-28.4],[20,-28.4,16.5,-28.6],[20,-24.8,22.8,-25.5,25.7,-25.5,26.9,-23.7,29.4,-22.2],[25.2,-17.8,27,-20,29.4,-22.2],[25.2,-17.8,28,-16.5,30.4,-15.6],[29.4,-22.2,31.2,-22.3],[30.4,-15.6,32.9,-16.7,32.6,-21,31.2,-22.3],[31.2,-22.3,32,-24.5,32.9,-26.9],
  [32.8,-9.3,33.2,-11.7,33,-13.6],[30.4,-15.6,30.3,-15,33,-14.2],[33,-14,34.4,-14.4,35,-16.8,35.7,-14.6,34.5,-11.5],[31,-25.8,32,-26,31.9,-27.3,31,-27,31,-25.8],[28,-28.7,29.4,-29.5,28.3,-30.6,27,-29.7,28,-28.7],
  [27.4,5.2,24,5,19,4,18.5,3.5],[18.5,3.5,16,-1.5,16.2,-2,15.5,-4,12.3,-5],[18.5,3.5,16.1,2,16,3,15,4.3],[14.4,1.4,14,-0.5,14.5,-2,12.5,-2.5,11.1,-3.9],[9.8,2.3,13,2.2,14.3,2.2,16.1,1.7],[9.7,1,11.3,1,11.3,2.2],
  [15,4.3,14.5,6.2,15.5,7.5],[15.5,7.5,18.5,9,21.7,10.6,22.9,11],[15.5,7.5,13.9,10,15.2,10,15,12.1,14.1,13],[14.1,13,14.2,11.2,11.8,7.4,8.5,4.7],[14.1,13,13.5,14.4,15.3,16.9,15.5,21,15.9,23.4],[14.1,13,13,13.6,7,13,3.7,12,3.6,11.7],[3.6,11.7,2.4,12.2],[2.4,12.2,1,13,0.4,14.9],[3.6,11.7,2.7,8.5,2.7,6.3],[1.6,6.2,1.6,9,0.9,11],[2.4,12.2,0.9,11],[1.1,6,0.5,8,0,11.1],[0.9,11,-2.9,11,-5.4,10.4],[-2.9,11,-2.6,8,-3,5],
  [-7.5,4.4,-8.4,7.5,-7.7,8,-8.2,10.1,-7,10.2],[-8.4,7.6,-9.5,8.4,-10.3,8.5],[-11.4,6.9,-10.3,8.4],[-10.3,8.4,-11,10,-12.4,9.9,-13.2,9],[-15,11,-13.7,12.6,-11.5,12.4],[-16.7,12.4,-13.7,12.6]
]
const eurasiaBorders = [
  [-7.5,37.2,-7,38.2,-7,39.7,-6.5,41.7,-8.8,41.9],[-1.8,43.4,0.7,42.8,3.2,42.4],[2.5,51.1,3.3,50.5,4.8,50,5.8,49.5],[3.4,51.4,5,51.4,5.6,51,6,50.8,6.2,50.1,5.8,50,5.8,49.5,6.4,49.5,6.2,50.1],[7.1,53.3,7.1,52.3,6,51.8,6,50.8],[8.6,54.9,9.9,54.8],
  [15,51.1,16.2,50.4,18.8,49.5,17,48.6],[14.2,53.9,14.6,52,15,51.1],[13,48.8,15,49,16.9,48.6,17,48,16.2,46.9,13.8,46.5,12.2,47,10.4,46.9],[7.6,47.6,9.6,47.5,9.5,47,10.4,46.9,10.3,46.5,9,45.9,8.3,46.4,7,45.9,6,46.2],[7,45.9,7,44.2,7.5,43.8],
  [18.8,49.5,22.6,49.1],[17,48,18.9,47.8,22.1,48.4,22.6,49.1],[22.6,49.1,24,50.7,23.5,51.6,23.5,53.5,23.5,54],[19.7,54.4,22.8,54.4,21,55.3],[23.5,54,25.5,54.3,26.6,55.6],[21,56.1,25,56.3,26.6,55.6],[26.6,55.6,28.2,56.2,27.5,57.5],[24.4,57.9,27.5,57.5,27.7,59.4],[28.2,56.2,30.9,55.6,32.7,53.4,31.5,53,31.8,52.1],[23.5,51.6,27,51.6,31.8,52.1],
  [31.8,52.1,34.4,51.8,35.4,50.6,40,49.6,40,48,38.2,47.1],[22.1,48.4,22.9,47.9,24.9,47.7,26.6,48.2,28.2,45.5,29.6,45.2],[26.6,48.2,29.7,46.3,28.2,45.5],[22.9,47.9,20.3,46.1,18.8,45.9,16.5,46.5,16.2,46.9],[16.5,46.5,15.5,45.8,13.7,45.5],
  [18.8,45.9,19,44.9,18.8,45,15.9,45.2,16,44.2,18.5,42.5],[19,44.9,19.6,43.2,18.7,43.2,18.5,42.5],[20.3,46.1,21.5,44.8,22.7,44.2,27,44,28.6,43.8],[22.7,44.2,22.4,42.5,21,42,20.5,41,20,39.7],[18.5,42.5,19.2,43.4,20.3,42.8,19.4,41.9],[20.3,42.8,21.5,42.2],[20.9,40.9,23,41.3,26.3,41.7,28,42],[26.3,41.7,26.3,40.9],
  [28,60.5,31.5,62.9,29,66,30,69,28,70],[28.5,70,25.5,69,21,69.1,23.7,66.3,24.1,65.8],[28.5,69.8,31,69.7],[21,69.1,18,68.5,14.5,66,12.2,63.5,12.2,61,11,59],
  [40,43.4,42.4,43.2,44,42.6,46.4,41.8,48.6,41.8],[41.5,41.5,43.5,41.1],[46.4,41.8,45,41.3,43.5,41.1],[45,41.3,46.5,38.9,44.8,39.7,43.5,41.1],[46.5,38.9,48,39.6,48.9,38.4],[44.8,39.7,44.4,37.8],[44.4,37.8,42.4,37.1,36.7,36.3,36,36],[42.4,37.1,41,34.4,38.8,33.4,35.9,32.7],[35.6,34.6,36.6,34.2,35.7,33.3,35.1,33.1],[35.1,33.1,35.7,32.7,35.5,31.8,35,29.5],[38.8,33.4,39.2,32.2],[44.4,37.8,45.5,35.9,46,35,46,33,47.8,31,48,30],[47.7,30,46.6,29.1],
  [53.9,37.3,56,38,57.3,38.1,61.2,36.6],[61.2,36.6,60.5,34,61,31.4,60.9,29.8],[60.9,29.8,63.3,27.2,63.2,26.6,61.5,25.1],
  [49.1,46.4,47.5,48,46.5,48.4,47,49,48,50.5,51,51.7,54,51.1,55,50.6,59,50.8,61.5,51.2,60,52,61,53.6,65,54.4,69,55.4,71,54.1,76.9,54.5,76.5,52,80,50.8,83.3,51,85.5,49.6,87.4,49.2,85.7,48.4,85.4,47.1,83,47.2,82.5,45.5,80,45,80.2,42.9],[80.2,42.9,74.2,43.2,71,42.3,70.4,41],[70.4,42,66.5,41.9,66,43,61,44.4,58.5,45.6,56,45,56,41.3,54.8,42,52.7,41.7],[56,41.3,57,41.3,60,42.2,61.9,41,64.5,38.9,66.5,37.4],[70.4,41.5,68.2,40,67.8,37.2],[80.2,42.2,76,40.4,73.7,39.5,69.5,40],[73.7,39.5,75,37.4],[66.5,37.4,68,37,70,38,71.5,37.9,74.9,37.3],[61.2,36.6,64.5,36.3,66.5,37.4],[60.9,29.8,66.3,29.9,69.3,31.9,71.8,36.5,74.6,37.1],
  [80.5,30.2,81.1,30.2,88.1,27.9],[88.8,28,91.7,27.8],[74.9,37.3,77.8,35.5],[97.3,28.3,98.7,25.9,97.7,23.9,99.5,22.9,101.2,21.4],[92.6,21.3,92.7,22],[101.2,21.4,102.2,22.4,103.9,22.5,106.7,22.8,108,21.5],[102.2,22.4,104.8,19.9,106,17.5,107.6,15.2,107.5,14.5,107.5,12.3,105.2,10.9,104.5,10.4],[100.1,20.4,101,17.6,102.5,17.9,104.7,16.4,105.6,14.3,107.5,14.5],[105.6,14.3,102.6,13.7,102.6,12.2],[100.1,20.4,101.2,21.4],[100.1,20.4,98.9,19.7,97.4,18.5,98.9,15.3,99.2,12,98.6,10],[100.1,6.5,101.8,5.8,102.1,6.2],
  [87.8,49.3,92.2,50.7,97.3,49.7,98,51.5,102,51.3,102.3,50.5,107,50,113,49.5,116.7,49.9,116,48,119.8,46.7,116,45.7,112,45,111.8,43.7,105,41.6,96.3,42.7,91,45.2,90.7,47,87.8,49.3],[87.4,49.2,87.8,49.3],[116.7,49.9,119.3,50.1,120.9,53.3,125.9,52.8,127.5,49.8,130.9,47.7,134.8,48.3,133,45.1,131.1,43,130.6,42.4],[130.6,42.4,128,41.9,126.9,41.8,124.3,40],[125,38,128.3,38.6],[52,19,53.1,16.6],[56.4,24.9,55.2,22.7],
  [141,-2.6,141,-9.1],[109.6,2,113,1.5,115.5,3,115.8,4.3,117.7,4.2],[-7.4,55.1,-8,54.5,-6,54.1]
]
// short inlets on the rough arctic and pacific coasts
const fjordLines = [
  [-47,82.1,-44,81.6],[-52,81.9,-50,81.3],[-43,82.4,-40,81.9],[-36,82.8,-33,82.2],[-40,82.7,-37,82.1],[-56,81.4,-53,80.8],[-27,82.6,-24,82.1],[-21,80.2,-24,79.2],[-20,77,-23,76.6],[-21,74.8,-26,74.5],[-24,72.8,-29,72.4],[-24,70.6,-28,70.2],[-30,67.4,-33,67],[-38,65,-41,65.3],[-42,62.5,-45,62.2],
  [-51,66,-48,66],[-52,69,-49,69.3],[-53,70.6,-50,70.4],[-56,73,-53,72.6],[-50,62.5,-47,62.7],[-47,60.7,-44,61],[-54,71.8,-51,71.6],[-60,75.7,-57,75.2],[-51.5,64.5,-49,64.7],[-52,66.7,-49.5,66.8],[-53,67.8,-50,67.6],
  [-126,50.5,-124,50.8],[-128,52,-126,52.3],[-129.5,53.5,-128,53.9],[-131,55.5,-129.5,55.8],[-133.5,57,-132,57.3],[-135,58.2,-133.5,58.7],
  [-82,82.3,-80,81.5],[-76,82.5,-74,81.8],[-71,82.4,-68,81.7],[-90,81.2,-86,80.8],[-72.5,69.6,-72.5,70.4],[-69,68.4,-67.8,68.2],[-77,72,-76,71],[-84,72.8,-83,71.5],[-78,68.5,-75,68],
  [6,61,8,61.2],[7,62.8,9,62.6],[12,65.8,14,65.6],[15,68.6,17,68.3],[20,70,21,69.6],[68,72,70,71.5],[75,71,74,69],[100,76,104,75.5],[156,51.5,158,53]
]

const flatToPairs = a => d3.range(0, a.length, 2).map(i => [a[i], a[i + 1]])
// d3 wants rings closed, first point again at the end
const asPolygon = a => {
  const ring = flatToPairs(a)
  return { type: "Polygon", coordinates: [[...ring, ring[0]]] }
}
const asLine = a => ({ type: "LineString", coordinates: flatToPairs(a) })

const mercator = lat => Math.log(Math.tan(Math.PI / 4 + lat * Math.PI / 360))
const x = d3.scaleLinear().domain([-180, 180]).range([68.6, 1611.4])
const y = d3.scaleLinear().domain([-1, 1]).range([1197, 705.8])
const planar = d3.geoTransform({
  point(lon, lat) { this.stream.point(x(lon), y(mercator(lat))) }
})
const path = d3.geoPath(planar)

const color = d3.scaleLinear()
  .domain(d3.extent(marketValues))
  .range(["#a9e4ff", "#006fc8"])

const svg = d3.select("#chart")

svg.append("text")
  .attr("x", 40)
  .attr("y", 126)
  .attr("font-family", "'Liberation Serif', 'Times New Roman', serif")
  .attr("font-weight", 700)
  .attr("font-size", 44)
  .attr("fill", "#2c3e50")
  .text(titleText)

svg.append("clipPath").attr("id", "panel-clip").append("rect")
  .attr("x", 40).attr("y", 196).attr("width", 1599).attr("height", 1099)

svg.append("rect")
  .attr("x", 40).attr("y", 196).attr("width", 1599).attr("height", 1099)
  .attr("fill", "#f9f9f9")

const map = svg.append("g").attr("clip-path", "url(#panel-clip)")

const landRings = [americas, greenland, eurasia, africa, chukotkaEast,
  chukotkaEast.map((v, i) => i % 2 ? v : v + 360),
  ...canadaIslands, ...eurasiaIslands, ...oceania, ...otherIslands]

map.append("g").selectAll("path")
  .data(landRings)
  .enter().append("path")
  .attr("d", d => path(asPolygon(d)))
  .attr("fill", "#eeeeee")
  .attr("stroke", "#d8d8d8")
  .attr("stroke-width", 2)
  .attr("stroke-linejoin", "round")

map.append("g").selectAll("path")
  .data(lakes)
  .enter().append("path")
  .attr("d", d => path(asPolygon(d)))
  .attr("fill", "#f9f9f9")
  .attr("stroke", "#d8d8d8")
  .attr("stroke-width", 2)

map.append("g").selectAll("path")
  .data([...americaBorders, ...africaBorders, ...eurasiaBorders, ...fjordLines])
  .enter().append("path")
  .attr("d", d => path(asLine(d)))
  .attr("fill", "none")
  .attr("stroke", "#d8d8d8")
  .attr("stroke-width", 2)
  .attr("stroke-linejoin", "round")

map.append("g").selectAll("g")
  .data(marketNames)
  .enter().append("g")
  .attr("data-name", d => d)
  .each(function(d, i) {
    d3.select(this).selectAll("path")
      .data(marketShapes[i])
      .enter().append("path")
      .attr("d", r => path(asPolygon(r)))
      .attr("fill", color(marketValues[i]))
      .attr("stroke", color(marketValues[i]))
      .attr("stroke-width", 1.4)
      .attr("stroke-linejoin", "round")
  })
</script>
</body>
</html>
